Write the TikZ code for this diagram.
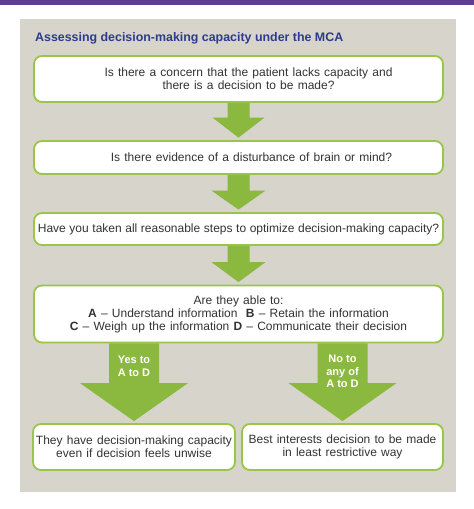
\documentclass[tikz,border=0pt]{standalone}
\usepackage{fontspec}
\setmainfont{Liberation Sans}
\usetikzlibrary{calc}
\definecolor{barpurple}{HTML}{5F3D91}
\definecolor{panelgrey}{HTML}{D7D4CB}
\definecolor{boxgreen}{HTML}{9BC54A}
\definecolor{arrowgreen}{HTML}{8BB83E}
\definecolor{titleblue}{HTML}{2E3B8C}
\definecolor{textgrey}{HTML}{333333}
\newcommand\greenarrow[5]{%
  \fill[arrowgreen] let \p1=(#1), \p2=(#2) in
    (\x1-#3pt,\y1) -- (\x1+#3pt,\y1) -- (\x1+#3pt,\y2+#5pt) -- (\x1+#4pt,\y2+#5pt)
    -- (\x1,\y2) -- (\x1-#4pt,\y2+#5pt) -- (\x1-#3pt,\y2+#5pt) -- cycle;}
\newcommand\boxfont{\fontsize{12}{13}\selectfont\spaceskip=4.2pt plus 1pt minus 1pt\relax}
\tikzset{
  qbox/.style={draw=boxgreen, line width=1.8pt, fill=white, rounded corners=8pt,
    align=center, text=textgrey, font=\boxfont, inner sep=1pt},
  arrowtext/.style={text=white, font=\bfseries\fontsize{11}{12.5}\selectfont, align=center},
}
\begin{document}
\begin{tikzpicture}[x=1pt,y=-1pt]
\useasboundingbox (0,0) rectangle (474,509);
\fill[white] (0,0) rectangle (474,509);
\fill[barpurple] (0,0) rectangle (474,5);
\fill[panelgrey] (20,19) rectangle (456,492);
\node[anchor=west, text=titleblue, font=\bfseries\fontsize{12.4}{14}\selectfont, inner sep=0pt]
  (title) at (35,38) {Assessing decision-making capacity under the MCA};

\node[qbox, minimum width=409pt, minimum height=46pt] (b1) at (238.5,79)
  {\hspace*{20pt}Is there a concern that the patient lacks capacity and\\\hspace*{20pt}there is a decision to be made?};
\node[qbox, minimum width=409pt, minimum height=33pt] (b2) at (238.5,157.5)
  {\hspace*{26pt}Is there evidence of a disturbance of brain or mind?};
\node[qbox, minimum width=409pt, minimum height=32pt] (b3) at (238.5,229)
  {\spaceskip=3.6pt plus 1pt\relax Have you taken all reasonable steps to optimize decision-making capacity?};
\node[qbox, minimum width=409pt, minimum height=57pt] (b4) at (238.5,314)
  {Are they able to:\\
   \textbf{A} -- Understand information\ \ \textbf{B} -- Retain the information\\
   \textbf{C} -- Weigh up the information \textbf{D} -- Communicate their decision};
\node[qbox, minimum width=202pt, minimum height=46pt] (b5) at (134,447)
  {They have decision-making capacity\\even if decision feels unwise};
\node[qbox, minimum width=201pt, minimum height=46pt] (b6) at (342.5,447)
  {Best interests decision to be made\\in least restrictive way};

\greenarrow{b1.south}{$(b2.north)+(0,-2.5)$}{11}{26}{20}
\greenarrow{b2.south}{$(b3.north)+(0,-2.5)$}{11}{27}{19}
\greenarrow{b3.south}{$(b4.north)+(0,-2.5)$}{11}{27}{20}
\coordinate (ly) at (b5.north |- b4.south);
\coordinate (ry) at (b6.north |- b4.south);
\greenarrow{ly}{$(b5.north)+(0,-2)$}{25}{54}{38}
\greenarrow{ry}{$(b6.north)+(0,-2)$}{25}{54}{38}
\node[arrowtext] (yes) at (134,366.5) {Yes to\\A to D};
\node[arrowtext] (no) at (342.5,371.5) {No to\\any of\\A to D};
\end{tikzpicture}
\end{document}
